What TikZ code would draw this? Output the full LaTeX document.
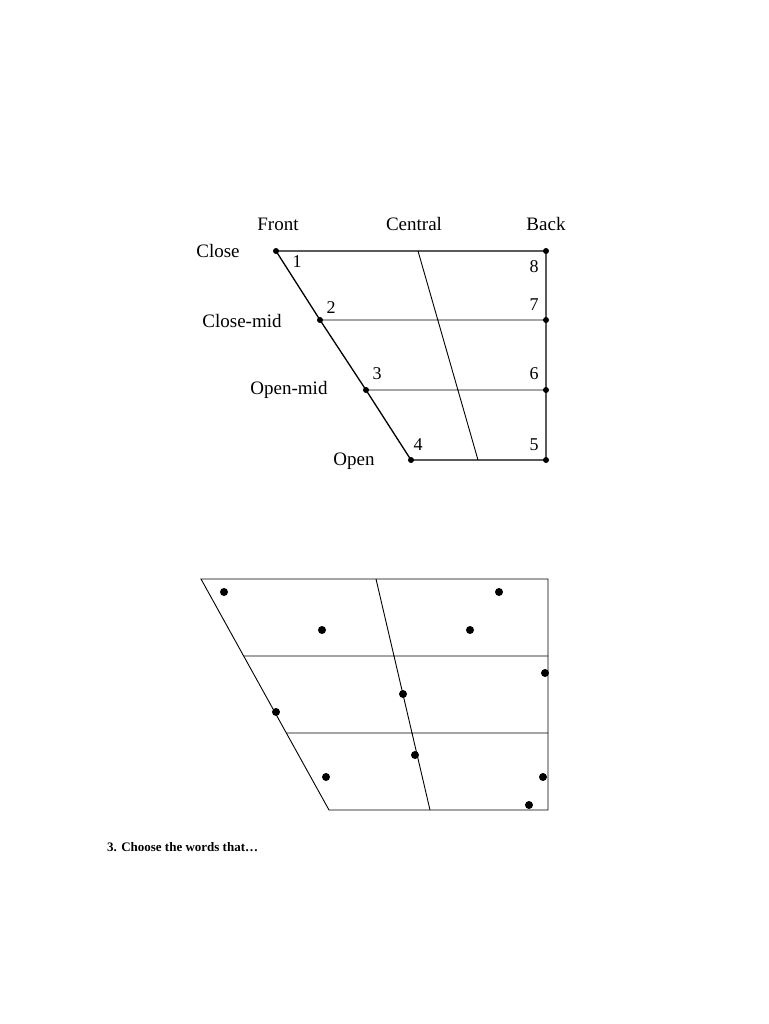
\documentclass[tikz,border=0pt]{standalone}
\usepackage{fontspec}
\setmainfont{Liberation Serif}
\begin{document}
\begin{tikzpicture}[x=1pt,y=-1pt,
  ln/.style={line width=1.3pt},
  ln2/.style={line width=0.9pt},
  dot/.style={circle,fill=black,inner sep=0pt,minimum size=6pt},
  lab/.style={font=\fontsize{19}{20}\selectfont,inner sep=0pt},
  num/.style={font=\fontsize{18}{20}\selectfont,inner sep=0pt}]
\useasboundingbox[fill=white] (0,0) rectangle (768,1024);
% top chart
\coordinate (f1) at (276,251); \coordinate (f2) at (320,320);
\coordinate (f3) at (366,390); \coordinate (f4) at (411,460);
\coordinate (b8) at (546,251); \coordinate (b7) at (546,320);
\coordinate (b6) at (546,390); \coordinate (b5) at (546,460);
\coordinate (c1) at (418,251); \coordinate (c2) at (478,460);
\draw[ln] (f1)--(b8)--(b5)--(f4)--(f3)--(f2)--(f1);
\draw[ln2] (f2)--(b7) (f3)--(b6) (c1)--(c2);
\foreach \p in {f1,f2,f3,f4,b5,b6,b7,b8} \node[dot] at (\p) {};
\node[lab] (tF) at (278,224) {Front};
\node[lab] (tC) at (414,224) {Central};
\node[lab] (tB) at (546,224) {Back};
\node[lab] (tCl) at (218,251) {Close};
\node[lab] (tCm) at (242,321) {Close-mid};
\node[lab] (tOm) at (289,390) {Open-mid};
\node[lab] (tO) at (354,461) {Open};
\node[num] (n1) at (297,262) {1};
\node[num] (n2) at (331,308) {2};
\node[num] (n3) at (377,374) {3};
\node[num] (n4) at (418,445) {4};
\node[num] (n5) at (534,445) {5};
\node[num] (n6) at (534,374) {6};
\node[num] (n7) at (534,305) {7};
\node[num] (n8) at (534,267) {8};
% bottom chart
\coordinate (q1) at (201,579); \coordinate (q2) at (548,579);
\coordinate (q3) at (548,810); \coordinate (q4) at (329,810);
\draw[ln2] (q1)--(q2)--(q3)--(q4)--cycle;
\draw[ln2] (243.7,656)--(548,656) (286.3,733)--(548,733) (376,579)--(430,810);
\foreach \x/\y in {224/592,322/630,499/592,470/630,545/673,403/694,276/712,415/755,326/777,543/777,529/805}
  \node[dot,minimum size=8pt] at (\x,\y) {};
\node[anchor=west,inner sep=0pt,font=\bfseries\fontsize{13}{14}\selectfont] (q) at (107,847) {3. Choose the words that…};
\end{tikzpicture}
\end{document}
